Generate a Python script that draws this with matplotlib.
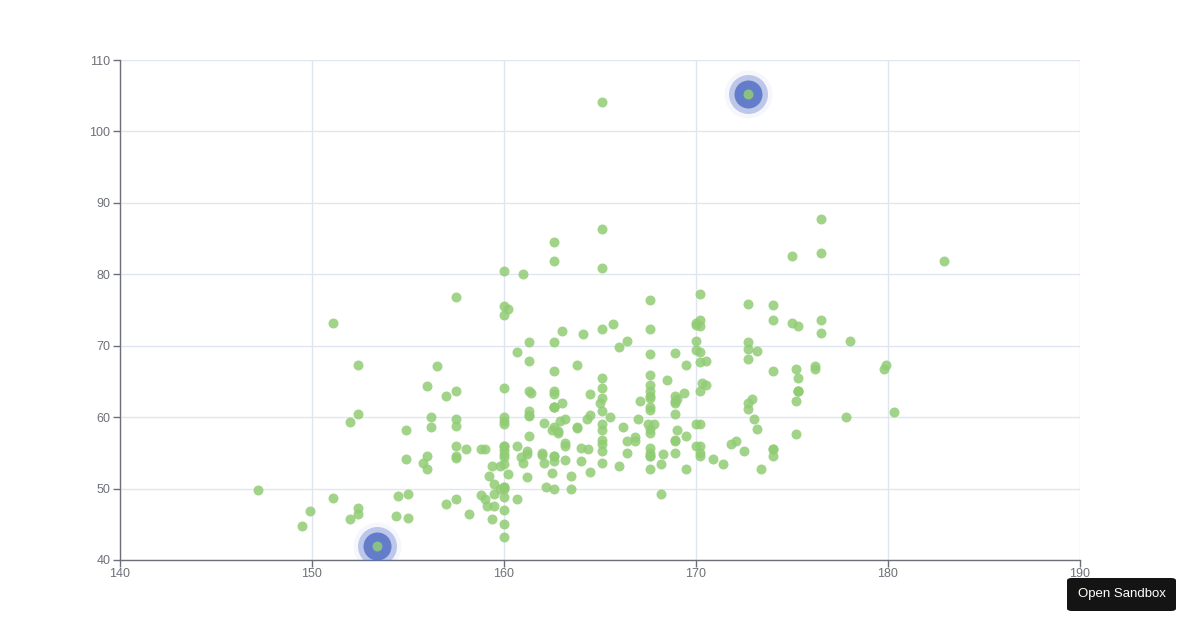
import matplotlib
matplotlib.use("Agg")
import matplotlib.pyplot as plt
from matplotlib.patches import FancyBboxPatch

plt.rcParams['font.family'] = ['Liberation Sans', 'DejaVu Sans']

heights = [161.2, 167.5, 159.5, 157.0, 155.8, 170.0, 159.1, 166.0, 176.2, 160.2,
    172.5, 170.9, 172.9, 153.4, 160.0, 147.2, 168.2, 175.0, 157.0, 167.6,
    159.5, 175.0, 166.8, 176.5, 170.2, 174.0, 173.0, 179.9, 170.5, 160.0,
    154.4, 162.0, 176.5, 160.0, 152.0, 162.1, 170.0, 160.2, 161.3, 166.4,
    168.9, 163.8, 167.6, 160.0, 161.3, 167.6, 165.1, 160.0, 170.0, 157.5,
    167.6, 160.7, 163.2, 152.4, 157.5, 168.3, 180.3, 165.5, 165.0, 164.5,
    156.0, 160.0, 163.0, 165.7, 161.0, 162.0, 166.0, 174.0, 172.7, 167.6,
    151.1, 164.5, 163.5, 152.0, 169.0, 164.0, 161.2, 155.0, 170.0, 176.2,
    170.0, 162.5, 170.3, 164.1, 169.5, 163.2, 154.5, 159.8, 173.2, 170.0,
    161.4, 169.0, 166.2, 159.4, 162.5, 159.0, 162.8, 159.0, 179.8, 162.9,
    161.0, 151.1, 168.2, 168.9, 173.2, 171.8, 178.0, 164.3, 163.0, 168.5,
    166.8, 172.7, 163.5, 169.4, 167.8, 159.5, 167.6, 161.2, 160.0, 163.2,
    162.2, 161.3, 149.5, 157.5, 163.2, 172.7, 155.0, 156.5, 164.0, 160.9,
    162.8, 167.0, 160.0, 160.0, 168.9, 158.2, 156.0, 160.0, 167.1, 158.0,
    167.6, 156.0, 162.1, 173.4, 159.8, 170.5, 159.2, 157.5, 161.3, 162.6,
    160.0, 168.9, 165.1, 162.6, 165.1, 166.4, 160.0, 152.4, 170.2, 162.6,
    170.2, 158.8, 172.7, 167.6, 162.6, 167.6, 156.2, 175.2, 172.1, 162.6,
    160.0, 165.1, 182.9, 166.4, 165.1, 177.8, 165.1, 175.3, 154.9, 158.8,
    172.7, 168.9, 161.3, 167.6, 165.1, 175.3, 157.5, 163.8, 167.6, 165.1,
    165.1, 168.9, 162.6, 164.5, 176.5, 168.9, 175.3, 159.4, 160.0, 170.2,
    162.6, 167.6, 162.6, 160.7, 160.0, 157.5, 162.6, 152.4, 170.2, 165.1,
    172.7, 165.1, 170.2, 170.2, 170.2, 161.3, 167.6, 167.6, 165.1, 162.6,
    152.4, 168.9, 170.2, 175.2, 175.2, 160.0, 165.1, 174.0, 170.2, 160.0,
    167.6, 167.6, 167.6, 154.9, 162.6, 175.3, 171.4, 157.5, 165.1, 160.0,
    174.0, 162.6, 174.0, 162.6, 161.3, 156.2, 149.9, 169.5, 160.0, 175.3,
    169.5, 160.0, 172.7, 162.6, 157.5, 176.5, 164.4, 160.7, 174.0, 163.8]

weights = [51.6, 59.0, 49.2, 63.0, 53.6, 59.0, 47.6, 69.8, 66.8, 75.2,
    55.2, 54.2, 62.5, 42.0, 50.0, 49.8, 49.2, 73.2, 47.8, 68.8,
    50.6, 82.5, 57.2, 87.8, 72.8, 54.5, 59.8, 67.3, 67.8, 47.0,
    46.2, 55.0, 83.0, 54.4, 45.8, 53.6, 73.2, 52.1, 67.9, 56.6,
    62.3, 58.5, 54.5, 50.2, 60.3, 58.3, 56.2, 50.2, 72.9, 59.8,
    61.0, 69.1, 55.9, 46.5, 54.3, 54.8, 60.7, 60.0, 62.0, 60.3,
    52.7, 74.3, 62.0, 73.1, 80.0, 54.7, 53.2, 75.7, 61.1, 55.7,
    48.7, 52.3, 50.0, 59.3, 62.5, 55.7, 54.8, 45.9, 70.6, 67.2,
    69.4, 58.2, 64.8, 71.6, 52.8, 59.8, 49.0, 50.0, 69.2, 55.9,
    63.4, 58.2, 58.6, 45.7, 52.2, 48.6, 57.8, 55.6, 66.8, 59.4,
    53.6, 73.2, 53.4, 69.0, 58.4, 56.2, 70.6, 59.8, 72.0, 65.2,
    56.6, 105.2, 51.8, 63.4, 59.0, 47.6, 63.0, 55.2, 45.0, 54.0,
    50.2, 60.2, 44.8, 58.8, 56.4, 62.0, 49.2, 67.2, 53.8, 54.4,
    58.0, 59.8, 54.8, 43.2, 60.5, 46.4, 64.4, 48.8, 62.2, 55.5,
    57.8, 54.6, 59.2, 52.7, 53.2, 64.5, 51.8, 56.0, 63.6, 63.2,
    59.5, 56.8, 64.1, 50.0, 72.3, 55.0, 55.9, 60.4, 69.1, 84.5,
    55.9, 55.5, 69.5, 76.4, 61.4, 65.9, 58.6, 66.8, 56.6, 58.6,
    55.9, 59.1, 81.8, 70.7, 56.8, 60.0, 58.2, 72.7, 54.1, 49.1,
    75.9, 55.0, 57.3, 55.0, 65.5, 65.5, 48.6, 58.6, 63.6, 55.2,
    62.7, 56.6, 53.9, 63.2, 73.6, 62.0, 63.6, 53.2, 53.4, 55.0,
    70.5, 54.5, 54.5, 55.9, 59.0, 63.6, 54.5, 47.3, 67.7, 80.9,
    70.5, 60.9, 63.6, 54.5, 59.1, 70.5, 52.7, 62.7, 86.3, 66.4,
    67.3, 63.0, 73.6, 62.3, 57.7, 55.4, 104.1, 55.5, 77.3, 80.5,
    64.5, 72.3, 61.4, 58.2, 81.8, 63.6, 53.4, 54.5, 53.6, 60.0,
    73.6, 61.4, 55.5, 63.6, 60.9, 60.0, 46.8, 57.3, 64.1, 63.6,
    67.3, 75.5, 68.2, 61.4, 76.8, 71.8, 55.5, 48.6, 66.4, 67.3]

effect_x = [172.7, 153.4]
effect_y = [105.2, 42.0]

x_ticks = [140, 150, 160, 170, 180, 190]
y_ticks = [40, 50, 60, 70, 80, 90, 100, 110]

BLUE = "#5470c6"
GREEN = "#91cc75"
AXIS = "#6E7079"
GRID = "#E0E6F1"

fig = plt.figure(figsize=(12, 6.3), dpi=100)
ax = fig.add_axes([0.1, 70/630, 0.8, 500/630])

def pt(px):
    return (px * 0.72) ** 2

# ripple effect
ax.scatter(effect_x, effect_y, s=pt(48), color=BLUE, alpha=0.05, linewidths=0, zorder=3)
ax.scatter(effect_x, effect_y, s=pt(39), color=BLUE, alpha=0.35, linewidths=0, zorder=3)
ax.scatter(effect_x, effect_y, s=pt(28), color=BLUE, alpha=0.85, linewidths=0, zorder=3)

ax.scatter(heights, weights, s=pt(10), color=GREEN, alpha=0.85, linewidths=0, zorder=4)

ax.set_xlim(140, 190)
ax.set_ylim(40, 110)
ax.set_xticks(x_ticks)
ax.set_yticks(y_ticks)
ax.grid(True, color=GRID, linewidth=1)
ax.set_axisbelow(True)
for side in ["top", "right"]:
    ax.spines[side].set_visible(False)
for side in ["left", "bottom"]:
    ax.spines[side].set_color(AXIS)
    ax.spines[side].set_linewidth(1)
ax.tick_params(colors=AXIS, labelcolor=AXIS, labelsize=9, length=5, width=1)
ax.tick_params(axis="x", pad=1)
ax.tick_params(axis="y", pad=2)

# Open Sandbox button
btn = FancyBboxPatch((1067/1200, (630-611)/630), 109/1200, 33/630,
                     boxstyle="round,pad=0,rounding_size=0.004",
                     transform=fig.transFigure, facecolor="#141414",
                     edgecolor="none", zorder=10)
fig.patches.append(btn)
fig.text((1067+54.5)/1200, (630-594.5)/630, "Open Sandbox", color="white",
         fontsize=9.5, ha="center", va="center", zorder=11)

fig.savefig("out.png", dpi=100, facecolor="white")
